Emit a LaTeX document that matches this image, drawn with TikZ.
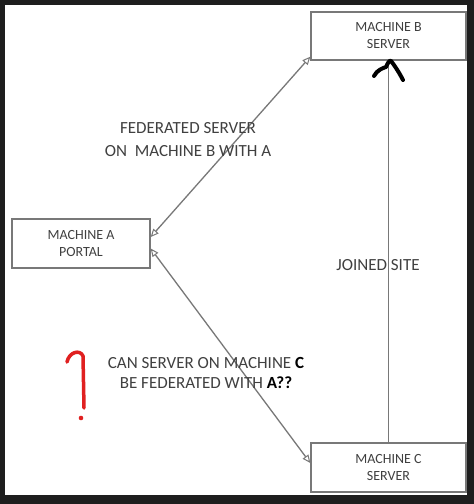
\documentclass[tikz,border=0pt]{standalone}
\usepackage{fontspec}
\setmainfont{Carlito}
\usetikzlibrary{arrows.meta,calc}
\definecolor{txt}{HTML}{404040}
\definecolor{ln}{HTML}{787878}
\definecolor{frame}{HTML}{1E1E1E}
\definecolor{pen}{HTML}{E02020}
\begin{document}
\begin{tikzpicture}[x=1pt,y=-1pt,
  box/.style={draw=ln, line width=1.4pt, fill=white, inner sep=0pt, align=center, text=txt, font=\fontsize{14}{17}\selectfont},
  lbl/.style={text=txt, align=center, font=\fontsize{17}{23}\selectfont, inner sep=0pt},
  conn/.style={draw=ln, line width=1.3pt, >={Triangle[open, length=8pt, width=7pt, line width=1pt]}}]
\fill[frame] (0,0) rectangle (474,504);
\fill[white] (5,5) rectangle (467,495);
\useasboundingbox (0,0) rectangle (474,504);
% boxes
\node[box, minimum width=155pt, minimum height=48pt] (B) at (388.5,36) {MACHINE B\\SERVER};
\node[box, minimum width=138pt, minimum height=49pt] (A) at (81,243.5) {MACHINE A\\PORTAL};
\node[box, minimum width=155pt, minimum height=49pt] (C) at (388.5,467.5) {MACHINE C\\SERVER};
% connectors
\draw[conn, <->] ($(A.east)+(0,-6.5)$) -- ($(B.south west)+(0,-4)$);
\draw[conn, <->] ($(A.east)+(0,5)$) -- ($(C.west)+(0,-4.5)$);
\draw[conn] (B.south) -- (C.north);
% labels
\node[lbl] (fed) at (188,140) {FEDERATED SERVER\\ON\ \ MACHINE B WITH A};
\node[lbl, font=\fontsize{17}{20}\selectfont] (q) at (206,373) {CAN SERVER ON MACHINE \textbf{\color{black}C}\\BE FEDERATED WITH \textbf{\color{black}A??}};
\node[lbl] (js) at (378,265) {JOINED SITE};
% hand-drawn marks
\draw[black, line width=4pt, line cap=round, line join=round] (374,76) .. controls (377,70) and (383,68) .. (386,67) .. controls (388,63) and (389,60) .. (391,61) .. controls (395,66) and (400,74) .. (403,80);
\draw[pen, line width=3.5pt, line cap=round, line join=round] (67,362) .. controls (69,352) and (80,349) .. (83,356) -- (84,408);
\fill[pen] (81,418) circle (2.3pt);
\end{tikzpicture}
\end{document}
